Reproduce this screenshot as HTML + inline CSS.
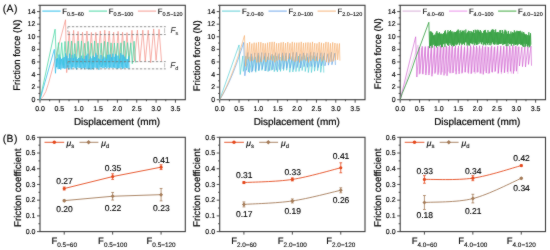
<!DOCTYPE html>
<html><head><meta charset="utf-8"><title>Friction force and coefficient</title>
<style>html,body{margin:0;padding:0;background:#fff;width:550px;height:250px;overflow:hidden}svg{display:block;will-change:transform}text{font-family:"Liberation Sans", sans-serif;text-rendering:geometricPrecision;stroke:#000;stroke-width:0.14px}text.big{stroke-width:0.2px}text.thin{stroke-width:0.05px;fill:#333;stroke:#333}</style>
</head><body>
<svg width="550" height="250" viewBox="0 0 550 250" font-family='"Liberation Sans", sans-serif'>
<defs><filter id="sb" color-interpolation-filters="sRGB" filterUnits="userSpaceOnUse" x="0" y="0" width="550" height="250"><feConvolveMatrix order="3" kernelMatrix="0.0280 0.0420 0.0280 0.0420 0.7200 0.0420 0.0280 0.0420 0.0280" edgeMode="duplicate"/></filter></defs><rect width="550" height="250" fill="#fff"/><g filter="url(#sb)">
<rect width="550" height="250" fill="#fff"/>
<line x1="37.00" y1="99.70" x2="40.00" y2="99.70" stroke="#3c3c3c" stroke-width="0.9" />
<text x="35.40" y="101.80" font-size="7" text-anchor="end" fill="#000" >0</text>
<line x1="38.40" y1="93.41" x2="40.00" y2="93.41" stroke="#3c3c3c" stroke-width="0.9" />
<line x1="37.00" y1="87.11" x2="40.00" y2="87.11" stroke="#3c3c3c" stroke-width="0.9" />
<text x="35.40" y="89.21" font-size="7" text-anchor="end" fill="#000" >2</text>
<line x1="38.40" y1="80.82" x2="40.00" y2="80.82" stroke="#3c3c3c" stroke-width="0.9" />
<line x1="37.00" y1="74.53" x2="40.00" y2="74.53" stroke="#3c3c3c" stroke-width="0.9" />
<text x="35.40" y="76.63" font-size="7" text-anchor="end" fill="#000" >4</text>
<line x1="38.40" y1="68.23" x2="40.00" y2="68.23" stroke="#3c3c3c" stroke-width="0.9" />
<line x1="37.00" y1="61.94" x2="40.00" y2="61.94" stroke="#3c3c3c" stroke-width="0.9" />
<text x="35.40" y="64.04" font-size="7" text-anchor="end" fill="#000" >6</text>
<line x1="38.40" y1="55.65" x2="40.00" y2="55.65" stroke="#3c3c3c" stroke-width="0.9" />
<line x1="37.00" y1="49.35" x2="40.00" y2="49.35" stroke="#3c3c3c" stroke-width="0.9" />
<text x="35.40" y="51.45" font-size="7" text-anchor="end" fill="#000" >8</text>
<line x1="38.40" y1="43.06" x2="40.00" y2="43.06" stroke="#3c3c3c" stroke-width="0.9" />
<line x1="37.00" y1="36.77" x2="40.00" y2="36.77" stroke="#3c3c3c" stroke-width="0.9" />
<text x="35.40" y="38.87" font-size="7" text-anchor="end" fill="#000" >10</text>
<line x1="38.40" y1="30.47" x2="40.00" y2="30.47" stroke="#3c3c3c" stroke-width="0.9" />
<line x1="37.00" y1="24.18" x2="40.00" y2="24.18" stroke="#3c3c3c" stroke-width="0.9" />
<text x="35.40" y="26.28" font-size="7" text-anchor="end" fill="#000" >12</text>
<line x1="38.40" y1="17.89" x2="40.00" y2="17.89" stroke="#3c3c3c" stroke-width="0.9" />
<line x1="37.00" y1="11.59" x2="40.00" y2="11.59" stroke="#3c3c3c" stroke-width="0.9" />
<text x="35.40" y="13.69" font-size="7" text-anchor="end" fill="#000" >14</text>
<line x1="38.40" y1="5.30" x2="40.00" y2="5.30" stroke="#3c3c3c" stroke-width="0.9" />
<line x1="40.00" y1="99.70" x2="40.00" y2="102.70" stroke="#3c3c3c" stroke-width="0.9" />
<text x="40.00" y="111.00" font-size="7" text-anchor="middle" fill="#000" >0.0</text>
<line x1="49.67" y1="99.70" x2="49.67" y2="101.30" stroke="#3c3c3c" stroke-width="0.9" />
<line x1="59.35" y1="99.70" x2="59.35" y2="102.70" stroke="#3c3c3c" stroke-width="0.9" />
<text x="59.35" y="111.00" font-size="7" text-anchor="middle" fill="#000" >0.5</text>
<line x1="69.02" y1="99.70" x2="69.02" y2="101.30" stroke="#3c3c3c" stroke-width="0.9" />
<line x1="78.70" y1="99.70" x2="78.70" y2="102.70" stroke="#3c3c3c" stroke-width="0.9" />
<text x="78.70" y="111.00" font-size="7" text-anchor="middle" fill="#000" >1.0</text>
<line x1="88.37" y1="99.70" x2="88.37" y2="101.30" stroke="#3c3c3c" stroke-width="0.9" />
<line x1="98.04" y1="99.70" x2="98.04" y2="102.70" stroke="#3c3c3c" stroke-width="0.9" />
<text x="98.04" y="111.00" font-size="7" text-anchor="middle" fill="#000" >1.5</text>
<line x1="107.72" y1="99.70" x2="107.72" y2="101.30" stroke="#3c3c3c" stroke-width="0.9" />
<line x1="117.39" y1="99.70" x2="117.39" y2="102.70" stroke="#3c3c3c" stroke-width="0.9" />
<text x="117.39" y="111.00" font-size="7" text-anchor="middle" fill="#000" >2.0</text>
<line x1="127.06" y1="99.70" x2="127.06" y2="101.30" stroke="#3c3c3c" stroke-width="0.9" />
<line x1="136.74" y1="99.70" x2="136.74" y2="102.70" stroke="#3c3c3c" stroke-width="0.9" />
<text x="136.74" y="111.00" font-size="7" text-anchor="middle" fill="#000" >2.5</text>
<line x1="146.41" y1="99.70" x2="146.41" y2="101.30" stroke="#3c3c3c" stroke-width="0.9" />
<line x1="156.09" y1="99.70" x2="156.09" y2="102.70" stroke="#3c3c3c" stroke-width="0.9" />
<text x="156.09" y="111.00" font-size="7" text-anchor="middle" fill="#000" >3.0</text>
<line x1="165.76" y1="99.70" x2="165.76" y2="101.30" stroke="#3c3c3c" stroke-width="0.9" />
<line x1="175.43" y1="99.70" x2="175.43" y2="102.70" stroke="#3c3c3c" stroke-width="0.9" />
<text x="175.43" y="111.00" font-size="7" text-anchor="middle" fill="#000" >3.5</text>
<rect x="40.00" y="5.3" width="145.3" height="94.40" fill="none" stroke="#3c3c3c" stroke-width="1.1"/>
<text x="117.00" y="125.40" font-size="9.95" text-anchor="middle" fill="#000" class="big">Displacement (mm)</text>
<text x="20.40" y="55.20" font-size="9.55" text-anchor="middle" fill="#000" class="big" transform="rotate(-90 20.40 55.20)">Friction force (N)</text>
<line x1="216.70" y1="99.70" x2="219.70" y2="99.70" stroke="#3c3c3c" stroke-width="0.9" />
<text x="215.10" y="101.80" font-size="7" text-anchor="end" fill="#000" >0</text>
<line x1="218.10" y1="93.41" x2="219.70" y2="93.41" stroke="#3c3c3c" stroke-width="0.9" />
<line x1="216.70" y1="87.11" x2="219.70" y2="87.11" stroke="#3c3c3c" stroke-width="0.9" />
<text x="215.10" y="89.21" font-size="7" text-anchor="end" fill="#000" >2</text>
<line x1="218.10" y1="80.82" x2="219.70" y2="80.82" stroke="#3c3c3c" stroke-width="0.9" />
<line x1="216.70" y1="74.53" x2="219.70" y2="74.53" stroke="#3c3c3c" stroke-width="0.9" />
<text x="215.10" y="76.63" font-size="7" text-anchor="end" fill="#000" >4</text>
<line x1="218.10" y1="68.23" x2="219.70" y2="68.23" stroke="#3c3c3c" stroke-width="0.9" />
<line x1="216.70" y1="61.94" x2="219.70" y2="61.94" stroke="#3c3c3c" stroke-width="0.9" />
<text x="215.10" y="64.04" font-size="7" text-anchor="end" fill="#000" >6</text>
<line x1="218.10" y1="55.65" x2="219.70" y2="55.65" stroke="#3c3c3c" stroke-width="0.9" />
<line x1="216.70" y1="49.35" x2="219.70" y2="49.35" stroke="#3c3c3c" stroke-width="0.9" />
<text x="215.10" y="51.45" font-size="7" text-anchor="end" fill="#000" >8</text>
<line x1="218.10" y1="43.06" x2="219.70" y2="43.06" stroke="#3c3c3c" stroke-width="0.9" />
<line x1="216.70" y1="36.77" x2="219.70" y2="36.77" stroke="#3c3c3c" stroke-width="0.9" />
<text x="215.10" y="38.87" font-size="7" text-anchor="end" fill="#000" >10</text>
<line x1="218.10" y1="30.47" x2="219.70" y2="30.47" stroke="#3c3c3c" stroke-width="0.9" />
<line x1="216.70" y1="24.18" x2="219.70" y2="24.18" stroke="#3c3c3c" stroke-width="0.9" />
<text x="215.10" y="26.28" font-size="7" text-anchor="end" fill="#000" >12</text>
<line x1="218.10" y1="17.89" x2="219.70" y2="17.89" stroke="#3c3c3c" stroke-width="0.9" />
<line x1="216.70" y1="11.59" x2="219.70" y2="11.59" stroke="#3c3c3c" stroke-width="0.9" />
<text x="215.10" y="13.69" font-size="7" text-anchor="end" fill="#000" >14</text>
<line x1="218.10" y1="5.30" x2="219.70" y2="5.30" stroke="#3c3c3c" stroke-width="0.9" />
<line x1="219.70" y1="99.70" x2="219.70" y2="102.70" stroke="#3c3c3c" stroke-width="0.9" />
<text x="219.70" y="111.00" font-size="7" text-anchor="middle" fill="#000" >0.0</text>
<line x1="229.37" y1="99.70" x2="229.37" y2="101.30" stroke="#3c3c3c" stroke-width="0.9" />
<line x1="239.05" y1="99.70" x2="239.05" y2="102.70" stroke="#3c3c3c" stroke-width="0.9" />
<text x="239.05" y="111.00" font-size="7" text-anchor="middle" fill="#000" >0.5</text>
<line x1="248.72" y1="99.70" x2="248.72" y2="101.30" stroke="#3c3c3c" stroke-width="0.9" />
<line x1="258.40" y1="99.70" x2="258.40" y2="102.70" stroke="#3c3c3c" stroke-width="0.9" />
<text x="258.40" y="111.00" font-size="7" text-anchor="middle" fill="#000" >1.0</text>
<line x1="268.07" y1="99.70" x2="268.07" y2="101.30" stroke="#3c3c3c" stroke-width="0.9" />
<line x1="277.74" y1="99.70" x2="277.74" y2="102.70" stroke="#3c3c3c" stroke-width="0.9" />
<text x="277.74" y="111.00" font-size="7" text-anchor="middle" fill="#000" >1.5</text>
<line x1="287.42" y1="99.70" x2="287.42" y2="101.30" stroke="#3c3c3c" stroke-width="0.9" />
<line x1="297.09" y1="99.70" x2="297.09" y2="102.70" stroke="#3c3c3c" stroke-width="0.9" />
<text x="297.09" y="111.00" font-size="7" text-anchor="middle" fill="#000" >2.0</text>
<line x1="306.76" y1="99.70" x2="306.76" y2="101.30" stroke="#3c3c3c" stroke-width="0.9" />
<line x1="316.44" y1="99.70" x2="316.44" y2="102.70" stroke="#3c3c3c" stroke-width="0.9" />
<text x="316.44" y="111.00" font-size="7" text-anchor="middle" fill="#000" >2.5</text>
<line x1="326.11" y1="99.70" x2="326.11" y2="101.30" stroke="#3c3c3c" stroke-width="0.9" />
<line x1="335.79" y1="99.70" x2="335.79" y2="102.70" stroke="#3c3c3c" stroke-width="0.9" />
<text x="335.79" y="111.00" font-size="7" text-anchor="middle" fill="#000" >3.0</text>
<line x1="345.46" y1="99.70" x2="345.46" y2="101.30" stroke="#3c3c3c" stroke-width="0.9" />
<line x1="355.13" y1="99.70" x2="355.13" y2="102.70" stroke="#3c3c3c" stroke-width="0.9" />
<text x="355.13" y="111.00" font-size="7" text-anchor="middle" fill="#000" >3.5</text>
<rect x="219.70" y="5.3" width="145.3" height="94.40" fill="none" stroke="#3c3c3c" stroke-width="1.1"/>
<text x="296.70" y="125.40" font-size="9.95" text-anchor="middle" fill="#000" class="big">Displacement (mm)</text>
<text x="199.60" y="55.80" font-size="9.55" text-anchor="middle" fill="#000" class="big" transform="rotate(-90 199.60 55.80)">Friction force (N)</text>
<line x1="397.20" y1="99.70" x2="400.20" y2="99.70" stroke="#3c3c3c" stroke-width="0.9" />
<text x="395.60" y="101.80" font-size="7" text-anchor="end" fill="#000" >0</text>
<line x1="398.60" y1="93.41" x2="400.20" y2="93.41" stroke="#3c3c3c" stroke-width="0.9" />
<line x1="397.20" y1="87.11" x2="400.20" y2="87.11" stroke="#3c3c3c" stroke-width="0.9" />
<text x="395.60" y="89.21" font-size="7" text-anchor="end" fill="#000" >2</text>
<line x1="398.60" y1="80.82" x2="400.20" y2="80.82" stroke="#3c3c3c" stroke-width="0.9" />
<line x1="397.20" y1="74.53" x2="400.20" y2="74.53" stroke="#3c3c3c" stroke-width="0.9" />
<text x="395.60" y="76.63" font-size="7" text-anchor="end" fill="#000" >4</text>
<line x1="398.60" y1="68.23" x2="400.20" y2="68.23" stroke="#3c3c3c" stroke-width="0.9" />
<line x1="397.20" y1="61.94" x2="400.20" y2="61.94" stroke="#3c3c3c" stroke-width="0.9" />
<text x="395.60" y="64.04" font-size="7" text-anchor="end" fill="#000" >6</text>
<line x1="398.60" y1="55.65" x2="400.20" y2="55.65" stroke="#3c3c3c" stroke-width="0.9" />
<line x1="397.20" y1="49.35" x2="400.20" y2="49.35" stroke="#3c3c3c" stroke-width="0.9" />
<text x="395.60" y="51.45" font-size="7" text-anchor="end" fill="#000" >8</text>
<line x1="398.60" y1="43.06" x2="400.20" y2="43.06" stroke="#3c3c3c" stroke-width="0.9" />
<line x1="397.20" y1="36.77" x2="400.20" y2="36.77" stroke="#3c3c3c" stroke-width="0.9" />
<text x="395.60" y="38.87" font-size="7" text-anchor="end" fill="#000" >10</text>
<line x1="398.60" y1="30.47" x2="400.20" y2="30.47" stroke="#3c3c3c" stroke-width="0.9" />
<line x1="397.20" y1="24.18" x2="400.20" y2="24.18" stroke="#3c3c3c" stroke-width="0.9" />
<text x="395.60" y="26.28" font-size="7" text-anchor="end" fill="#000" >12</text>
<line x1="398.60" y1="17.89" x2="400.20" y2="17.89" stroke="#3c3c3c" stroke-width="0.9" />
<line x1="397.20" y1="11.59" x2="400.20" y2="11.59" stroke="#3c3c3c" stroke-width="0.9" />
<text x="395.60" y="13.69" font-size="7" text-anchor="end" fill="#000" >14</text>
<line x1="398.60" y1="5.30" x2="400.20" y2="5.30" stroke="#3c3c3c" stroke-width="0.9" />
<line x1="400.20" y1="99.70" x2="400.20" y2="102.70" stroke="#3c3c3c" stroke-width="0.9" />
<text x="400.20" y="111.00" font-size="7" text-anchor="middle" fill="#000" >0.0</text>
<line x1="409.87" y1="99.70" x2="409.87" y2="101.30" stroke="#3c3c3c" stroke-width="0.9" />
<line x1="419.55" y1="99.70" x2="419.55" y2="102.70" stroke="#3c3c3c" stroke-width="0.9" />
<text x="419.55" y="111.00" font-size="7" text-anchor="middle" fill="#000" >0.5</text>
<line x1="429.22" y1="99.70" x2="429.22" y2="101.30" stroke="#3c3c3c" stroke-width="0.9" />
<line x1="438.90" y1="99.70" x2="438.90" y2="102.70" stroke="#3c3c3c" stroke-width="0.9" />
<text x="438.90" y="111.00" font-size="7" text-anchor="middle" fill="#000" >1.0</text>
<line x1="448.57" y1="99.70" x2="448.57" y2="101.30" stroke="#3c3c3c" stroke-width="0.9" />
<line x1="458.24" y1="99.70" x2="458.24" y2="102.70" stroke="#3c3c3c" stroke-width="0.9" />
<text x="458.24" y="111.00" font-size="7" text-anchor="middle" fill="#000" >1.5</text>
<line x1="467.92" y1="99.70" x2="467.92" y2="101.30" stroke="#3c3c3c" stroke-width="0.9" />
<line x1="477.59" y1="99.70" x2="477.59" y2="102.70" stroke="#3c3c3c" stroke-width="0.9" />
<text x="477.59" y="111.00" font-size="7" text-anchor="middle" fill="#000" >2.0</text>
<line x1="487.26" y1="99.70" x2="487.26" y2="101.30" stroke="#3c3c3c" stroke-width="0.9" />
<line x1="496.94" y1="99.70" x2="496.94" y2="102.70" stroke="#3c3c3c" stroke-width="0.9" />
<text x="496.94" y="111.00" font-size="7" text-anchor="middle" fill="#000" >2.5</text>
<line x1="506.61" y1="99.70" x2="506.61" y2="101.30" stroke="#3c3c3c" stroke-width="0.9" />
<line x1="516.29" y1="99.70" x2="516.29" y2="102.70" stroke="#3c3c3c" stroke-width="0.9" />
<text x="516.29" y="111.00" font-size="7" text-anchor="middle" fill="#000" >3.0</text>
<line x1="525.96" y1="99.70" x2="525.96" y2="101.30" stroke="#3c3c3c" stroke-width="0.9" />
<line x1="535.63" y1="99.70" x2="535.63" y2="102.70" stroke="#3c3c3c" stroke-width="0.9" />
<text x="535.63" y="111.00" font-size="7" text-anchor="middle" fill="#000" >3.5</text>
<rect x="400.20" y="5.3" width="145.3" height="94.40" fill="none" stroke="#3c3c3c" stroke-width="1.1"/>
<text x="477.20" y="125.40" font-size="9.95" text-anchor="middle" fill="#000" class="big">Displacement (mm)</text>
<text x="380.60" y="53.80" font-size="9.55" text-anchor="middle" fill="#000" class="big" transform="rotate(-90 380.60 53.80)">Friction force (N)</text>
<path d="M40.00,99.70 L43.10,96.55 L45.80,91.52 L48.51,83.34 L53.16,66.35 L65.54,19.77 L66.70,72.64 L69.15,31.54 L71.15,61.75 L73.60,30.35 L75.60,62.05 L78.05,31.40 L80.05,61.67 L82.50,32.21 L84.50,61.90 L86.95,31.09 L88.95,61.02 L91.40,32.44 L93.40,62.56 L95.85,32.45 L97.85,60.97 L100.30,30.93 L102.30,63.38 L104.75,30.20 L106.75,60.48 L109.20,31.03 L111.20,61.58 L113.65,32.28 L115.65,63.47 L118.10,31.35 L120.10,63.33 L122.55,32.20 L124.55,62.75 L127.00,32.60 L129.00,62.05 L131.98,30.31 L134.42,60.86 L137.40,30.11 L139.83,61.50 L142.81,30.16 L145.25,61.43 L148.23,30.27 L150.67,62.64 L153.65,28.91 L156.09,60.38 L159.06,29.30 L161.50,61.29" fill="none" stroke="#f4968c" stroke-width="0.75" stroke-linejoin="round" />
<path d="M40.00,99.70 L55.09,29.21 L56.64,66.97 L58.45,42.58 L59.93,64.56 L61.74,42.65 L63.22,65.36 L65.03,41.45 L66.51,63.70 L68.32,41.24 L69.80,63.77 L71.60,40.96 L73.08,61.45 L74.89,43.37 L76.37,64.66 L78.18,41.08 L79.66,63.35 L81.47,40.91 L82.95,63.72 L84.76,43.19 L86.24,62.55 L88.05,41.41 L89.53,64.36 L91.34,43.16 L92.82,64.04 L94.63,40.95 L96.11,61.90 L97.92,43.08 L99.40,64.48 L101.21,43.12 L102.69,65.41 L104.50,41.37 L105.98,64.82 L107.78,41.97 L109.26,63.46 L111.07,42.89 L112.55,62.03 L114.36,43.04 L115.84,62.48 L117.65,43.08 L119.13,63.60 L120.94,42.84 L122.42,64.36 L124.23,40.93 L125.71,61.67 L127.52,42.61 L129.00,61.26 L130.81,42.84 L132.29,63.73 L134.10,41.22 L135.58,62.48" fill="none" stroke="#45d6a2" stroke-width="0.75" stroke-linejoin="round" />
<path d="M40.00,99.70 L54.32,49.35 L55.48,73.27 L56.33,58.79 L56.79,67.32 L57.65,58.08 L58.11,69.16 L58.96,54.56 L59.42,68.98 L60.28,57.56 L60.74,69.62 L61.60,58.86 L62.06,68.34 L62.91,57.89 L63.37,68.29 L64.23,57.08 L64.69,68.67 L65.54,53.39 L66.00,68.59 L66.86,55.81 L67.32,67.63 L68.17,58.27 L68.63,69.42 L69.49,53.71 L69.95,67.75 L70.81,57.85 L71.27,69.33 L72.12,54.77 L72.58,67.44 L73.44,58.19 L73.90,67.41 L74.75,53.87 L75.21,68.29 L76.07,56.77 L76.53,69.55 L77.38,59.18 L77.84,67.38 L78.70,57.92 L79.16,68.03 L80.01,57.81 L80.48,67.73 L81.33,55.67 L81.79,69.07 L82.65,58.32 L83.11,67.99 L83.96,58.99 L84.42,69.23 L85.28,55.90 L85.74,67.66 L86.59,55.56 L87.05,69.10 L87.91,53.65 L88.37,69.29 L89.22,59.32 L89.68,69.13 L90.54,56.62 L91.00,69.65 L91.86,58.31 L92.32,68.88 L93.17,55.82 L93.63,69.48 L94.49,57.14 L94.95,67.56 L95.80,53.25 L96.26,68.15 L97.12,55.07 L97.58,68.34 L98.43,58.54 L98.89,69.72 L99.75,59.31 L100.21,67.52 L101.06,55.01 L101.53,67.38 L102.38,59.29 L102.84,68.21 L103.70,56.39 L104.16,67.97 L105.01,57.42 L105.47,67.29 L106.33,58.95 L106.79,68.43 L107.64,54.78 L108.10,67.54 L108.96,54.78 L109.42,68.04 L110.27,54.43 L110.73,67.50 L111.59,57.21 L112.05,68.08 L112.91,53.75 L113.37,67.61 L114.22,56.80 L114.68,67.82 L115.54,53.99 L116.00,68.36 L116.85,55.49 L117.31,68.84 L118.17,55.76 L118.63,68.27 L119.48,58.92 L119.94,68.20 L120.80,53.17 L121.26,67.59 L122.11,54.84 L122.58,68.83 L123.43,54.80 L123.89,68.34 L124.75,56.65 L125.21,67.70 L126.06,58.90 L126.52,67.92 L127.38,59.24 L127.84,68.29 L128.69,56.40 L129.15,69.23" fill="none" stroke="#38bfea" stroke-width="0.8" stroke-linejoin="round" />
<line x1="67.86" y1="26.70" x2="165.76" y2="26.70" stroke="#7a7a7a" stroke-width="0.8" stroke-dasharray="2.4,1.6"/>
<line x1="67.86" y1="34.56" x2="165.76" y2="34.56" stroke="#7a7a7a" stroke-width="0.8" stroke-dasharray="2.4,1.6"/>
<line x1="67.86" y1="61.63" x2="165.76" y2="61.63" stroke="#7a7a7a" stroke-width="0.8" stroke-dasharray="2.4,1.6"/>
<line x1="67.86" y1="68.86" x2="165.76" y2="68.86" stroke="#7a7a7a" stroke-width="0.8" stroke-dasharray="2.4,1.6"/>
<line x1="164.60" y1="28.20" x2="164.60" y2="33.06" stroke="#999" stroke-width="0.6" />
<line x1="67.86" y1="26.70" x2="67.86" y2="34.56" stroke="#888" stroke-width="0.7" stroke-dasharray="2,1.5"/>
<line x1="164.60" y1="63.13" x2="164.60" y2="67.36" stroke="#999" stroke-width="0.6" />
<line x1="67.86" y1="61.63" x2="67.86" y2="68.86" stroke="#888" stroke-width="0.7" stroke-dasharray="2,1.5"/>
<text class="thin" x="170.50" y="33.20" font-size="8.2" text-anchor="start" fill="#000"><tspan font-style="italic">F</tspan><tspan font-size="5.6" dy="1.8" style="stroke-width:0.1px">s</tspan></text>
<text class="thin" x="170.30" y="67.80" font-size="8.2" text-anchor="start" fill="#000"><tspan font-style="italic">F</tspan><tspan font-size="5.6" dy="1.8" style="stroke-width:0.1px">d</tspan></text>
<line x1="42.30" y1="11.10" x2="60.60" y2="11.10" stroke="#40c4ec" stroke-width="1.1" />
<text class="" x="62.20" y="14.20" font-size="7.7" text-anchor="start" fill="#000"><tspan >F</tspan><tspan font-size="5.5" dy="2.0" style="stroke-width:0.1px">0.5−60</tspan></text>
<line x1="88.80" y1="11.10" x2="107.10" y2="11.10" stroke="#5ddcae" stroke-width="1.1" />
<text class="" x="108.70" y="14.20" font-size="7.7" text-anchor="start" fill="#000"><tspan >F</tspan><tspan font-size="5.5" dy="2.0" style="stroke-width:0.1px">0.5−100</tspan></text>
<line x1="137.90" y1="11.10" x2="156.20" y2="11.10" stroke="#f6a49c" stroke-width="1.1" />
<text class="" x="157.80" y="14.20" font-size="7.7" text-anchor="start" fill="#000"><tspan >F</tspan><tspan font-size="5.5" dy="2.0" style="stroke-width:0.1px">0.5−120</tspan></text>
<path d="M219.70,99.70 L239.05,44.95 L240.21,74.53 L242.84,55.90 L243.30,71.39 L245.94,56.06 L246.40,70.32 L249.03,56.74 L249.50,72.61 L252.13,56.65 L252.59,70.93 L255.22,56.84 L255.69,72.21 L258.32,55.51 L258.78,70.98 L261.41,56.39 L261.88,70.39 L264.51,56.60 L264.97,70.96 L267.60,56.85 L268.07,71.55 L270.70,55.70 L271.16,70.34 L273.80,55.56 L274.26,71.67 L276.89,56.12 L277.36,71.84 L279.99,56.96 L280.45,71.39 L283.08,55.64 L283.55,70.50 L286.18,55.88 L286.64,70.25 L289.27,56.70 L289.74,72.21 L292.37,56.37 L292.83,71.95 L295.46,56.82 L295.93,71.60 L298.56,56.04 L299.02,71.40 L301.66,56.62 L302.12,70.53 L304.75,55.37 L305.22,71.50 L307.85,57.08 L308.31,72.56 L310.94,55.57 L311.41,72.53 L314.04,55.88 L314.50,71.20 L317.13,56.64 L317.60,70.65 L320.23,57.18 L320.69,72.30 L323.33,56.36 L323.79,72.58" fill="none" stroke="#4ccad2" stroke-width="0.65" stroke-linejoin="round" />
<path d="M219.70,99.70 L221.41,96.94 L223.13,93.97 L224.84,90.80 L226.55,87.43 L228.27,83.85 L229.98,80.06 L231.70,76.08 L233.41,71.88 L235.12,67.49 L236.84,62.88 L238.55,58.08 L240.26,53.07 L241.98,47.85 L243.69,42.43 L244.85,75.79 L247.81,52.51 L248.33,71.92 L251.29,53.81 L251.82,72.18 L254.78,52.89 L255.30,70.95 L258.26,52.88 L258.78,70.20 L261.74,52.55 L262.26,69.22 L265.22,52.78 L265.75,70.91 L268.71,53.18 L269.23,70.74 L272.19,54.05 L272.71,69.78 L275.67,52.72 L276.19,70.29 L279.15,53.56 L279.68,69.65 L282.64,52.76 L283.16,68.99 L286.12,52.91 L286.64,68.17 L289.60,53.33 L290.13,67.86 L293.09,52.36 L293.61,69.41 L296.57,52.31 L297.09,67.59 L300.05,53.83 L300.57,68.05 L303.53,52.89 L304.06,66.68 L307.02,53.36 L307.54,67.32 L310.50,52.41 L311.02,66.52 L313.98,52.29 L314.50,67.14 L317.46,52.84 L317.99,67.57 L320.95,52.71 L321.47,65.80 L324.43,52.86 L324.95,65.83 L327.91,53.67 L328.43,65.15 L331.39,52.22 L331.92,64.74 L334.88,53.06 L335.40,64.98" fill="none" stroke="#5a9fe6" stroke-width="0.65" stroke-linejoin="round" />
<path d="M219.70,99.70 L221.47,96.61 L223.24,93.28 L225.01,89.73 L226.78,85.94 L228.54,81.93 L230.31,77.69 L232.08,73.22 L233.85,68.52 L235.62,63.59 L237.39,58.43 L239.16,53.05 L240.93,47.43 L242.70,41.58 L244.46,35.51 L245.63,66.35 L247.42,43.08 L247.87,59.13 L249.67,42.07 L250.11,61.25 L251.91,43.53 L252.36,60.90 L254.15,42.65 L254.60,59.67 L256.40,42.77 L256.85,62.46 L258.64,42.16 L259.09,62.33 L260.89,42.18 L261.34,61.92 L263.13,43.06 L263.58,59.59 L265.38,43.42 L265.82,62.01 L267.62,42.71 L268.07,59.84 L269.86,42.10 L270.31,59.97 L272.11,41.90 L272.56,60.71 L274.35,41.90 L274.80,62.24 L276.60,43.27 L277.05,60.58 L278.84,43.14 L279.29,59.82 L281.09,42.48 L281.53,60.60 L283.33,42.10 L283.78,60.45 L285.57,43.10 L286.02,61.13 L287.82,42.09 L288.27,59.17 L290.06,43.30 L290.51,59.36 L292.31,41.86 L292.76,60.59 L294.55,42.61 L295.00,61.81 L296.80,42.68 L297.24,60.67 L299.04,42.55 L299.49,62.46 L301.28,41.86 L301.73,60.62 L303.53,42.93 L303.98,59.54 L305.77,42.63 L306.22,60.72 L308.02,42.38 L308.47,62.32 L310.26,42.67 L310.71,61.01 L312.51,41.88 L312.96,59.08 L314.75,43.18 L315.20,60.78 L316.99,43.45 L317.44,60.93 L319.24,42.15 L319.69,59.17 L321.48,42.79 L321.93,61.37 L323.73,43.33 L324.18,60.24 L325.97,41.94 L326.42,62.08 L328.22,42.22 L328.67,62.48 L330.46,43.32 L330.91,61.71 L332.71,42.39 L333.15,61.35 L334.95,43.02 L335.40,60.23 L337.19,43.49 L337.64,59.81 L339.44,43.46 L339.89,60.64" fill="none" stroke="#f5ad6a" stroke-width="0.65" stroke-linejoin="round" />
<line x1="222.00" y1="11.10" x2="240.30" y2="11.10" stroke="#6fd3da" stroke-width="1.1" />
<text class="" x="241.90" y="14.20" font-size="7.7" text-anchor="start" fill="#000"><tspan >F</tspan><tspan font-size="5.5" dy="2.0" style="stroke-width:0.1px">2.0−60</tspan></text>
<line x1="268.50" y1="11.10" x2="286.80" y2="11.10" stroke="#7fb2ec" stroke-width="1.1" />
<text class="" x="288.40" y="14.20" font-size="7.7" text-anchor="start" fill="#000"><tspan >F</tspan><tspan font-size="5.5" dy="2.0" style="stroke-width:0.1px">2.0−100</tspan></text>
<line x1="317.60" y1="11.10" x2="335.90" y2="11.10" stroke="#f7bb88" stroke-width="1.1" />
<text class="" x="337.50" y="14.20" font-size="7.7" text-anchor="start" fill="#000"><tspan >F</tspan><tspan font-size="5.5" dy="2.0" style="stroke-width:0.1px">2.0−120</tspan></text>
<path d="M400.20,99.70 L418.00,44.95 L419.16,74.53 L421.79,47.94 L422.45,73.59 L425.08,47.41 L425.74,72.84 L428.37,47.70 L429.03,72.91 L431.66,47.41 L432.32,73.71 L434.95,48.02 L435.61,72.23 L438.24,47.20 L438.90,72.55 L441.53,46.80 L442.18,72.29 L444.82,46.79 L445.47,73.48 L448.10,47.01 L448.76,71.66 L451.39,46.71 L452.05,73.22 L454.68,47.81 L455.34,71.31 L457.97,48.00 L458.63,71.07 L461.26,46.73 L461.92,73.79 L464.55,47.96 L465.21,71.93 L467.84,47.92 L468.50,73.91 L471.13,46.84 L471.79,72.89 L474.42,46.92 L475.07,73.82 L477.71,47.65 L478.36,72.06 L481.00,48.38 L481.65,73.58 L484.28,47.12 L484.94,71.34 L487.57,46.58 L488.23,73.85 L490.86,47.45 L491.52,71.83 L494.15,47.46 L494.81,72.05 L497.44,48.05 L498.10,73.99 L500.73,48.21 L501.39,74.09 L504.02,47.37 L504.68,72.59 L507.31,47.34 L507.97,73.75 L510.60,48.06 L511.25,73.57 L513.89,46.82 L514.54,71.10 L517.18,46.66 L517.83,73.91" fill="none" stroke="#e39ae3" stroke-width="0.45" stroke-linejoin="round" />
<path d="M400.20,99.70 L415.68,36.77 L416.84,77.04 L419.25,47.03 L419.86,73.70 L422.27,46.28 L422.88,74.19 L425.29,46.53 L425.89,75.03 L428.31,46.18 L428.91,75.04 L431.33,46.02 L431.93,76.26 L434.34,45.83 L434.95,73.54 L437.36,46.81 L437.97,74.67 L440.38,45.75 L440.98,74.73 L443.40,46.78 L444.00,75.39 L446.42,46.18 L447.02,75.76 L449.44,45.46 L450.04,73.19 L452.45,45.82 L453.06,72.90 L455.47,45.96 L456.08,74.24 L458.49,46.02 L459.09,73.83 L461.51,45.30 L462.11,72.78 L464.53,46.66 L465.13,72.35 L467.54,45.75 L468.15,72.67 L470.56,45.61 L471.17,73.75 L473.58,45.46 L474.18,72.16 L476.60,45.84 L477.20,72.41 L479.62,45.71 L480.22,73.45 L482.64,45.79 L483.24,74.41 L485.65,46.51 L486.26,73.06 L488.67,47.13 L489.28,73.31 L491.69,45.94 L492.29,72.37 L494.71,46.71 L495.31,71.26 L497.73,45.89 L498.33,73.08 L500.75,45.91 L501.35,72.25 L503.76,46.14 L504.37,72.72 L506.78,45.26 L507.39,71.82 L509.80,45.83 L510.40,71.35 L512.82,45.30 L513.42,73.58 L515.84,45.99 L516.44,71.23 L518.85,46.67 L519.46,66.03 L521.87,47.06 L522.48,66.67 L524.89,46.44 L525.49,66.98 L527.91,46.68 L528.51,64.44 L530.93,46.11 L531.53,65.69" fill="none" stroke="#cf5ccf" stroke-width="0.65" stroke-linejoin="round" />
<path d="M400.20,99.70 L402.21,93.41 L405.62,85.23 L408.91,77.04 L412.20,68.23 L414.90,60.05 L428.83,22.29 L429.61,48.09 L430.08,31.56 L430.46,45.95 L430.93,31.37 L431.31,45.62 L431.78,32.12 L432.16,47.67 L432.63,32.99 L433.01,45.03 L433.48,35.36 L433.86,44.32 L434.33,34.78 L434.72,45.98 L435.18,34.68 L435.57,45.82 L436.04,32.66 L436.42,47.41 L436.89,31.13 L437.27,45.97 L437.74,32.91 L438.12,45.24 L438.59,33.55 L438.97,46.35 L439.44,32.21 L439.82,45.25 L440.29,33.78 L440.68,44.60 L441.14,33.67 L441.53,47.19 L441.99,33.83 L442.38,47.02 L442.85,34.16 L443.23,44.27 L443.70,33.07 L444.08,43.67 L444.55,31.43 L444.93,46.81 L445.40,30.31 L445.78,43.37 L446.25,34.28 L446.63,43.46 L447.10,32.65 L447.49,45.02 L447.95,30.20 L448.34,45.84 L448.80,32.13 L449.19,43.17 L449.66,31.19 L450.04,44.88 L450.51,30.01 L450.89,43.51 L451.36,31.61 L451.74,46.11 L452.21,31.47 L452.59,44.77 L453.06,33.27 L453.44,46.24 L453.91,31.79 L454.30,45.92 L454.76,32.12 L455.15,43.82 L455.62,32.01 L456.00,45.30 L456.47,31.41 L456.85,44.66 L457.32,30.50 L457.70,44.20 L458.17,29.49 L458.55,42.56 L459.02,30.61 L459.40,45.22 L459.87,33.30 L460.25,42.71 L460.72,30.31 L461.11,43.68 L461.57,32.14 L461.96,44.97 L462.43,30.67 L462.81,43.83 L463.28,31.05 L463.66,43.54 L464.13,30.30 L464.51,45.18 L464.98,32.49 L465.36,42.16 L465.83,29.53 L466.21,42.51 L466.68,33.36 L467.07,45.57 L467.53,32.31 L467.92,44.17 L468.38,30.73 L468.77,45.36 L469.24,31.07 L469.62,45.45 L470.09,33.05 L470.47,43.15 L470.94,30.99 L471.32,43.30 L471.79,31.75 L472.17,43.86 L472.64,32.45 L473.02,44.35 L473.49,30.08 L473.88,42.47 L474.34,33.02 L474.73,45.17 L475.19,29.77 L475.58,43.26 L476.05,29.94 L476.43,44.80 L476.90,31.45 L477.28,44.62 L477.75,29.75 L478.13,44.19 L478.60,30.43 L478.98,41.85 L479.45,31.87 L479.83,43.51 L480.30,30.02 L480.69,42.10 L481.15,31.42 L481.54,44.18 L482.01,32.88 L482.39,42.28 L482.86,32.97 L483.24,45.27 L483.71,30.83 L484.09,43.76 L484.56,30.31 L484.94,44.47 L485.41,29.92 L485.79,45.32 L486.26,32.41 L486.64,43.12 L487.11,33.00 L487.50,44.49 L487.96,30.18 L488.35,43.03 L488.82,32.15 L489.20,45.12 L489.67,31.83 L490.05,42.94 L490.52,31.82 L490.90,45.26 L491.37,30.33 L491.75,43.57 L492.22,29.43 L492.60,42.20 L493.07,29.48 L493.46,44.12 L493.92,29.99 L494.31,44.65 L494.77,32.16 L495.16,44.32 L495.63,29.47 L496.01,42.48 L496.48,32.52 L496.86,44.52 L497.33,32.04 L497.71,44.55 L498.18,31.94 L498.56,44.49 L499.03,32.86 L499.41,43.86 L499.88,30.25 L500.27,43.99 L500.73,30.11 L501.12,43.94 L501.58,33.06 L501.97,43.24 L502.44,30.00 L502.82,45.09 L503.29,33.82 L503.67,44.25 L504.14,31.57 L504.52,44.10 L504.99,29.76 L505.37,43.83 L505.84,30.52 L506.22,46.09 L506.69,31.70 L507.08,43.40 L507.54,33.79 L507.93,46.12 L508.40,30.96 L508.78,43.09 L509.25,33.89 L509.63,44.14 L510.10,33.68 L510.48,43.77 L510.95,31.51 L511.33,45.71 L511.80,33.45 L512.18,43.80 L512.65,32.18 L513.03,43.86 L513.50,32.80 L513.89,45.53 L514.35,30.33 L514.74,44.33 L515.21,32.48 L515.59,44.90 L516.06,31.54 L516.44,44.31 L516.91,30.74 L517.29,45.49 L517.76,31.19 L518.14,44.59 L518.61,31.14 L518.99,44.12 L519.46,31.29 L519.85,43.87 L520.31,30.80 L520.70,44.88 L521.16,32.78 L521.55,44.68 L522.02,31.62 L522.40,45.83 L522.87,33.36 L523.25,46.93 L523.72,32.01 L524.10,43.81 L524.57,33.69 L524.95,46.98 L525.42,34.51 L525.80,46.08 L526.27,34.19 L526.66,44.09 L527.12,35.28 L527.51,46.65 L527.98,35.10 L528.36,45.44 L528.83,32.26 L529.21,47.27 L529.68,35.47 L530.06,46.28 L530.53,33.24 L530.91,44.65" fill="none" stroke="#34a040" stroke-width="0.8" stroke-linejoin="round" />
<line x1="402.50" y1="11.10" x2="420.80" y2="11.10" stroke="#dcb6dc" stroke-width="1.1" />
<text class="" x="422.40" y="14.20" font-size="7.7" text-anchor="start" fill="#000"><tspan >F</tspan><tspan font-size="5.5" dy="2.0" style="stroke-width:0.1px">4.0−60</tspan></text>
<line x1="449.00" y1="11.10" x2="467.30" y2="11.10" stroke="#ee9cee" stroke-width="1.1" />
<text class="" x="468.90" y="14.20" font-size="7.7" text-anchor="start" fill="#000"><tspan >F</tspan><tspan font-size="5.5" dy="2.0" style="stroke-width:0.1px">4.0−100</tspan></text>
<line x1="498.10" y1="11.10" x2="516.40" y2="11.10" stroke="#52b052" stroke-width="1.1" />
<text class="" x="518.00" y="14.20" font-size="7.7" text-anchor="start" fill="#000"><tspan >F</tspan><tspan font-size="5.5" dy="2.0" style="stroke-width:0.1px">4.0−120</tspan></text>
<text x="2.70" y="12.40" font-size="10.4" text-anchor="start" fill="#000" letter-spacing="0.45">(A)</text>
<text x="2.70" y="141.50" font-size="10.4" text-anchor="start" fill="#000" letter-spacing="0.45">(B)</text>
<line x1="37.00" y1="231.60" x2="40.00" y2="231.60" stroke="#3c3c3c" stroke-width="0.9" />
<text x="35.40" y="233.90" font-size="7" text-anchor="end" fill="#000" >0.0</text>
<line x1="38.40" y1="223.74" x2="40.00" y2="223.74" stroke="#3c3c3c" stroke-width="0.9" />
<line x1="37.00" y1="215.88" x2="40.00" y2="215.88" stroke="#3c3c3c" stroke-width="0.9" />
<text x="35.40" y="218.18" font-size="7" text-anchor="end" fill="#000" >0.1</text>
<line x1="38.40" y1="208.03" x2="40.00" y2="208.03" stroke="#3c3c3c" stroke-width="0.9" />
<line x1="37.00" y1="200.17" x2="40.00" y2="200.17" stroke="#3c3c3c" stroke-width="0.9" />
<text x="35.40" y="202.47" font-size="7" text-anchor="end" fill="#000" >0.2</text>
<line x1="38.40" y1="192.31" x2="40.00" y2="192.31" stroke="#3c3c3c" stroke-width="0.9" />
<line x1="37.00" y1="184.45" x2="40.00" y2="184.45" stroke="#3c3c3c" stroke-width="0.9" />
<text x="35.40" y="186.75" font-size="7" text-anchor="end" fill="#000" >0.3</text>
<line x1="38.40" y1="176.59" x2="40.00" y2="176.59" stroke="#3c3c3c" stroke-width="0.9" />
<line x1="37.00" y1="168.73" x2="40.00" y2="168.73" stroke="#3c3c3c" stroke-width="0.9" />
<text x="35.40" y="171.03" font-size="7" text-anchor="end" fill="#000" >0.4</text>
<line x1="38.40" y1="160.88" x2="40.00" y2="160.88" stroke="#3c3c3c" stroke-width="0.9" />
<line x1="37.00" y1="153.02" x2="40.00" y2="153.02" stroke="#3c3c3c" stroke-width="0.9" />
<text x="35.40" y="155.32" font-size="7" text-anchor="end" fill="#000" >0.5</text>
<line x1="38.40" y1="145.16" x2="40.00" y2="145.16" stroke="#3c3c3c" stroke-width="0.9" />
<line x1="37.00" y1="137.30" x2="40.00" y2="137.30" stroke="#3c3c3c" stroke-width="0.9" />
<text x="35.40" y="139.60" font-size="7" text-anchor="end" fill="#000" >0.6</text>
<line x1="64.22" y1="231.60" x2="64.22" y2="234.60" stroke="#3c3c3c" stroke-width="0.9" />
<text class="" x="64.22" y="244.20" font-size="9.5" text-anchor="middle" fill="#000"><tspan >F</tspan><tspan font-size="6.4" dy="3.1" style="stroke-width:0.1px">0.5−60</tspan></text>
<line x1="112.65" y1="231.60" x2="112.65" y2="234.60" stroke="#3c3c3c" stroke-width="0.9" />
<text class="" x="112.65" y="244.20" font-size="9.5" text-anchor="middle" fill="#000"><tspan >F</tspan><tspan font-size="6.4" dy="3.1" style="stroke-width:0.1px">0.5−100</tspan></text>
<line x1="161.08" y1="231.60" x2="161.08" y2="234.60" stroke="#3c3c3c" stroke-width="0.9" />
<text class="" x="161.08" y="244.20" font-size="9.5" text-anchor="middle" fill="#000"><tspan >F</tspan><tspan font-size="6.4" dy="3.1" style="stroke-width:0.1px">0.5−120</tspan></text>
<rect x="40.00" y="137.3" width="145.3" height="94.30" fill="none" stroke="#3c3c3c" stroke-width="1.1"/>
<text x="20.90" y="187.80" font-size="9.75" text-anchor="middle" fill="#000" class="big" transform="rotate(-90 20.90 187.8)">Friction coefficient</text>
<line x1="44.50" y1="142.30" x2="64.20" y2="142.30" stroke="#e4481c" stroke-width="0.9" />
<circle cx="54.30" cy="142.3" r="1.75" fill="#e4481c"/>
<text class="" x="66.60" y="145.80" font-size="8.5" text-anchor="start" fill="#000"><tspan font-style="italic">μ</tspan><tspan font-size="5.9" dy="2.0" style="stroke-width:0.1px">s</tspan></text>
<line x1="79.50" y1="142.30" x2="98.40" y2="142.30" stroke="#a47b58" stroke-width="0.9" />
<path d="M88.60,140.10 L90.80,142.30 L88.60,144.50 L86.40,142.30Z" fill="#a47b58"/>
<text class="" x="101.30" y="145.80" font-size="8.5" text-anchor="start" fill="#000"><tspan font-style="italic">μ</tspan><tspan font-size="5.9" dy="2.0" style="stroke-width:0.1px">d</tspan></text>
<path d="M64.22,200.64 L112.65,196.24 L161.08,194.67" fill="none" stroke="#a47b58" stroke-width="0.9" stroke-linejoin="round" />
<line x1="64.22" y1="199.64" x2="64.22" y2="201.64" stroke="#a47b58" stroke-width="0.8" />
<line x1="62.82" y1="199.64" x2="65.62" y2="199.64" stroke="#a47b58" stroke-width="0.8" />
<line x1="62.82" y1="201.64" x2="65.62" y2="201.64" stroke="#a47b58" stroke-width="0.8" />
<path d="M64.22,198.64 L66.22,200.64 L64.22,202.64 L62.22,200.64Z" fill="#a47b58"/>
<text x="64.52" y="212.00" font-size="8.5" text-anchor="middle" fill="#000" >0.20</text>
<line x1="112.65" y1="192.44" x2="112.65" y2="200.04" stroke="#a47b58" stroke-width="0.8" />
<line x1="111.25" y1="192.44" x2="114.05" y2="192.44" stroke="#a47b58" stroke-width="0.8" />
<line x1="111.25" y1="200.04" x2="114.05" y2="200.04" stroke="#a47b58" stroke-width="0.8" />
<path d="M112.65,194.24 L114.65,196.24 L112.65,198.24 L110.65,196.24Z" fill="#a47b58"/>
<text x="112.95" y="210.60" font-size="8.5" text-anchor="middle" fill="#000" >0.22</text>
<line x1="161.08" y1="188.47" x2="161.08" y2="200.87" stroke="#a47b58" stroke-width="0.8" />
<line x1="159.68" y1="188.47" x2="162.48" y2="188.47" stroke="#a47b58" stroke-width="0.8" />
<line x1="159.68" y1="200.87" x2="162.48" y2="200.87" stroke="#a47b58" stroke-width="0.8" />
<path d="M161.08,192.67 L163.08,194.67 L161.08,196.67 L159.08,194.67Z" fill="#a47b58"/>
<text x="161.38" y="210.60" font-size="8.5" text-anchor="middle" fill="#000" >0.23</text>
<path d="M64.22,188.54 L112.65,176.59 L161.08,167.16" fill="none" stroke="#e4481c" stroke-width="0.9" stroke-linejoin="round" />
<line x1="64.22" y1="187.04" x2="64.22" y2="190.04" stroke="#e4481c" stroke-width="0.8" />
<line x1="62.82" y1="187.04" x2="65.62" y2="187.04" stroke="#e4481c" stroke-width="0.8" />
<line x1="62.82" y1="190.04" x2="65.62" y2="190.04" stroke="#e4481c" stroke-width="0.8" />
<circle cx="64.22" cy="188.54" r="1.55" fill="#e4481c"/>
<text x="64.52" y="184.00" font-size="8.5" text-anchor="middle" fill="#000" >0.27</text>
<line x1="112.65" y1="173.79" x2="112.65" y2="179.39" stroke="#e4481c" stroke-width="0.8" />
<line x1="111.25" y1="173.79" x2="114.05" y2="173.79" stroke="#e4481c" stroke-width="0.8" />
<line x1="111.25" y1="179.39" x2="114.05" y2="179.39" stroke="#e4481c" stroke-width="0.8" />
<circle cx="112.65" cy="176.59" r="1.55" fill="#e4481c"/>
<text x="112.95" y="171.00" font-size="8.5" text-anchor="middle" fill="#000" >0.35</text>
<line x1="161.08" y1="164.76" x2="161.08" y2="169.56" stroke="#e4481c" stroke-width="0.8" />
<line x1="159.68" y1="164.76" x2="162.48" y2="164.76" stroke="#e4481c" stroke-width="0.8" />
<line x1="159.68" y1="169.56" x2="162.48" y2="169.56" stroke="#e4481c" stroke-width="0.8" />
<circle cx="161.08" cy="167.16" r="1.55" fill="#e4481c"/>
<text x="161.38" y="163.40" font-size="8.5" text-anchor="middle" fill="#000" >0.41</text>
<line x1="216.70" y1="231.60" x2="219.70" y2="231.60" stroke="#3c3c3c" stroke-width="0.9" />
<text x="215.10" y="233.90" font-size="7" text-anchor="end" fill="#000" >0.0</text>
<line x1="218.10" y1="223.74" x2="219.70" y2="223.74" stroke="#3c3c3c" stroke-width="0.9" />
<line x1="216.70" y1="215.88" x2="219.70" y2="215.88" stroke="#3c3c3c" stroke-width="0.9" />
<text x="215.10" y="218.18" font-size="7" text-anchor="end" fill="#000" >0.1</text>
<line x1="218.10" y1="208.03" x2="219.70" y2="208.03" stroke="#3c3c3c" stroke-width="0.9" />
<line x1="216.70" y1="200.17" x2="219.70" y2="200.17" stroke="#3c3c3c" stroke-width="0.9" />
<text x="215.10" y="202.47" font-size="7" text-anchor="end" fill="#000" >0.2</text>
<line x1="218.10" y1="192.31" x2="219.70" y2="192.31" stroke="#3c3c3c" stroke-width="0.9" />
<line x1="216.70" y1="184.45" x2="219.70" y2="184.45" stroke="#3c3c3c" stroke-width="0.9" />
<text x="215.10" y="186.75" font-size="7" text-anchor="end" fill="#000" >0.3</text>
<line x1="218.10" y1="176.59" x2="219.70" y2="176.59" stroke="#3c3c3c" stroke-width="0.9" />
<line x1="216.70" y1="168.73" x2="219.70" y2="168.73" stroke="#3c3c3c" stroke-width="0.9" />
<text x="215.10" y="171.03" font-size="7" text-anchor="end" fill="#000" >0.4</text>
<line x1="218.10" y1="160.88" x2="219.70" y2="160.88" stroke="#3c3c3c" stroke-width="0.9" />
<line x1="216.70" y1="153.02" x2="219.70" y2="153.02" stroke="#3c3c3c" stroke-width="0.9" />
<text x="215.10" y="155.32" font-size="7" text-anchor="end" fill="#000" >0.5</text>
<line x1="218.10" y1="145.16" x2="219.70" y2="145.16" stroke="#3c3c3c" stroke-width="0.9" />
<line x1="216.70" y1="137.30" x2="219.70" y2="137.30" stroke="#3c3c3c" stroke-width="0.9" />
<text x="215.10" y="139.60" font-size="7" text-anchor="end" fill="#000" >0.6</text>
<line x1="243.92" y1="231.60" x2="243.92" y2="234.60" stroke="#3c3c3c" stroke-width="0.9" />
<text class="" x="243.92" y="244.20" font-size="9.5" text-anchor="middle" fill="#000"><tspan >F</tspan><tspan font-size="6.4" dy="3.1" style="stroke-width:0.1px">2.0−60</tspan></text>
<line x1="292.35" y1="231.60" x2="292.35" y2="234.60" stroke="#3c3c3c" stroke-width="0.9" />
<text class="" x="292.35" y="244.20" font-size="9.5" text-anchor="middle" fill="#000"><tspan >F</tspan><tspan font-size="6.4" dy="3.1" style="stroke-width:0.1px">2.0−100</tspan></text>
<line x1="340.78" y1="231.60" x2="340.78" y2="234.60" stroke="#3c3c3c" stroke-width="0.9" />
<text class="" x="340.78" y="244.20" font-size="9.5" text-anchor="middle" fill="#000"><tspan >F</tspan><tspan font-size="6.4" dy="3.1" style="stroke-width:0.1px">2.0−120</tspan></text>
<rect x="219.70" y="137.3" width="145.3" height="94.30" fill="none" stroke="#3c3c3c" stroke-width="1.1"/>
<text x="200.10" y="187.80" font-size="9.75" text-anchor="middle" fill="#000" class="big" transform="rotate(-90 200.10 187.8)">Friction coefficient</text>
<line x1="224.20" y1="142.30" x2="243.90" y2="142.30" stroke="#e4481c" stroke-width="0.9" />
<circle cx="234.00" cy="142.3" r="1.75" fill="#e4481c"/>
<text class="" x="246.30" y="145.80" font-size="8.5" text-anchor="start" fill="#000"><tspan font-style="italic">μ</tspan><tspan font-size="5.9" dy="2.0" style="stroke-width:0.1px">s</tspan></text>
<line x1="259.20" y1="142.30" x2="278.10" y2="142.30" stroke="#a47b58" stroke-width="0.9" />
<path d="M268.30,140.10 L270.50,142.30 L268.30,144.50 L266.10,142.30Z" fill="#a47b58"/>
<text class="" x="281.00" y="145.80" font-size="8.5" text-anchor="start" fill="#000"><tspan font-style="italic">μ</tspan><tspan font-size="5.9" dy="2.0" style="stroke-width:0.1px">d</tspan></text>
<path d="M243.92,204.41 C251.99,203.83 276.21,203.31 292.35,200.95 C308.49,198.59 332.71,192.05 340.78,190.27" fill="none" stroke="#a47b58" stroke-width="0.9"/>
<line x1="243.92" y1="201.91" x2="243.92" y2="206.91" stroke="#a47b58" stroke-width="0.8" />
<line x1="242.52" y1="201.91" x2="245.32" y2="201.91" stroke="#a47b58" stroke-width="0.8" />
<line x1="242.52" y1="206.91" x2="245.32" y2="206.91" stroke="#a47b58" stroke-width="0.8" />
<path d="M243.92,202.41 L245.92,204.41 L243.92,206.41 L241.92,204.41Z" fill="#a47b58"/>
<text x="244.22" y="217.00" font-size="8.5" text-anchor="middle" fill="#000" >0.17</text>
<line x1="292.35" y1="198.95" x2="292.35" y2="202.95" stroke="#a47b58" stroke-width="0.8" />
<line x1="290.95" y1="198.95" x2="293.75" y2="198.95" stroke="#a47b58" stroke-width="0.8" />
<line x1="290.95" y1="202.95" x2="293.75" y2="202.95" stroke="#a47b58" stroke-width="0.8" />
<path d="M292.35,198.95 L294.35,200.95 L292.35,202.95 L290.35,200.95Z" fill="#a47b58"/>
<text x="292.65" y="213.80" font-size="8.5" text-anchor="middle" fill="#000" >0.19</text>
<line x1="340.78" y1="187.77" x2="340.78" y2="192.77" stroke="#a47b58" stroke-width="0.8" />
<line x1="339.38" y1="187.77" x2="342.18" y2="187.77" stroke="#a47b58" stroke-width="0.8" />
<line x1="339.38" y1="192.77" x2="342.18" y2="192.77" stroke="#a47b58" stroke-width="0.8" />
<path d="M340.78,188.27 L342.78,190.27 L340.78,192.27 L338.78,190.27Z" fill="#a47b58"/>
<text x="341.08" y="202.60" font-size="8.5" text-anchor="middle" fill="#000" >0.26</text>
<path d="M243.92,182.56 C251.99,182.04 276.21,181.88 292.35,179.42 C308.49,176.96 332.71,169.73 340.78,167.79" fill="none" stroke="#e4481c" stroke-width="0.9"/>
<line x1="243.92" y1="181.56" x2="243.92" y2="183.56" stroke="#e4481c" stroke-width="0.8" />
<line x1="242.52" y1="181.56" x2="245.32" y2="181.56" stroke="#e4481c" stroke-width="0.8" />
<line x1="242.52" y1="183.56" x2="245.32" y2="183.56" stroke="#e4481c" stroke-width="0.8" />
<circle cx="243.92" cy="182.56" r="1.55" fill="#e4481c"/>
<text x="244.22" y="178.20" font-size="8.5" text-anchor="middle" fill="#000" >0.31</text>
<line x1="292.35" y1="177.92" x2="292.35" y2="180.92" stroke="#e4481c" stroke-width="0.8" />
<line x1="290.95" y1="177.92" x2="293.75" y2="177.92" stroke="#e4481c" stroke-width="0.8" />
<line x1="290.95" y1="180.92" x2="293.75" y2="180.92" stroke="#e4481c" stroke-width="0.8" />
<circle cx="292.35" cy="179.42" r="1.55" fill="#e4481c"/>
<text x="292.65" y="175.00" font-size="8.5" text-anchor="middle" fill="#000" >0.33</text>
<line x1="340.78" y1="162.79" x2="340.78" y2="172.79" stroke="#e4481c" stroke-width="0.8" />
<line x1="339.38" y1="162.79" x2="342.18" y2="162.79" stroke="#e4481c" stroke-width="0.8" />
<line x1="339.38" y1="172.79" x2="342.18" y2="172.79" stroke="#e4481c" stroke-width="0.8" />
<circle cx="340.78" cy="167.79" r="1.55" fill="#e4481c"/>
<text x="341.08" y="159.20" font-size="8.5" text-anchor="middle" fill="#000" >0.41</text>
<line x1="397.20" y1="231.60" x2="400.20" y2="231.60" stroke="#3c3c3c" stroke-width="0.9" />
<text x="395.60" y="233.90" font-size="7" text-anchor="end" fill="#000" >0.0</text>
<line x1="398.60" y1="223.74" x2="400.20" y2="223.74" stroke="#3c3c3c" stroke-width="0.9" />
<line x1="397.20" y1="215.88" x2="400.20" y2="215.88" stroke="#3c3c3c" stroke-width="0.9" />
<text x="395.60" y="218.18" font-size="7" text-anchor="end" fill="#000" >0.1</text>
<line x1="398.60" y1="208.03" x2="400.20" y2="208.03" stroke="#3c3c3c" stroke-width="0.9" />
<line x1="397.20" y1="200.17" x2="400.20" y2="200.17" stroke="#3c3c3c" stroke-width="0.9" />
<text x="395.60" y="202.47" font-size="7" text-anchor="end" fill="#000" >0.2</text>
<line x1="398.60" y1="192.31" x2="400.20" y2="192.31" stroke="#3c3c3c" stroke-width="0.9" />
<line x1="397.20" y1="184.45" x2="400.20" y2="184.45" stroke="#3c3c3c" stroke-width="0.9" />
<text x="395.60" y="186.75" font-size="7" text-anchor="end" fill="#000" >0.3</text>
<line x1="398.60" y1="176.59" x2="400.20" y2="176.59" stroke="#3c3c3c" stroke-width="0.9" />
<line x1="397.20" y1="168.73" x2="400.20" y2="168.73" stroke="#3c3c3c" stroke-width="0.9" />
<text x="395.60" y="171.03" font-size="7" text-anchor="end" fill="#000" >0.4</text>
<line x1="398.60" y1="160.88" x2="400.20" y2="160.88" stroke="#3c3c3c" stroke-width="0.9" />
<line x1="397.20" y1="153.02" x2="400.20" y2="153.02" stroke="#3c3c3c" stroke-width="0.9" />
<text x="395.60" y="155.32" font-size="7" text-anchor="end" fill="#000" >0.5</text>
<line x1="398.60" y1="145.16" x2="400.20" y2="145.16" stroke="#3c3c3c" stroke-width="0.9" />
<line x1="397.20" y1="137.30" x2="400.20" y2="137.30" stroke="#3c3c3c" stroke-width="0.9" />
<text x="395.60" y="139.60" font-size="7" text-anchor="end" fill="#000" >0.6</text>
<line x1="424.42" y1="231.60" x2="424.42" y2="234.60" stroke="#3c3c3c" stroke-width="0.9" />
<text class="" x="424.42" y="244.20" font-size="9.5" text-anchor="middle" fill="#000"><tspan >F</tspan><tspan font-size="6.4" dy="3.1" style="stroke-width:0.1px">4.0−60</tspan></text>
<line x1="472.85" y1="231.60" x2="472.85" y2="234.60" stroke="#3c3c3c" stroke-width="0.9" />
<text class="" x="472.85" y="244.20" font-size="9.5" text-anchor="middle" fill="#000"><tspan >F</tspan><tspan font-size="6.4" dy="3.1" style="stroke-width:0.1px">4.0−100</tspan></text>
<line x1="521.28" y1="231.60" x2="521.28" y2="234.60" stroke="#3c3c3c" stroke-width="0.9" />
<text class="" x="521.28" y="244.20" font-size="9.5" text-anchor="middle" fill="#000"><tspan >F</tspan><tspan font-size="6.4" dy="3.1" style="stroke-width:0.1px">4.0−120</tspan></text>
<rect x="400.20" y="137.3" width="145.3" height="94.30" fill="none" stroke="#3c3c3c" stroke-width="1.1"/>
<text x="381.10" y="187.80" font-size="9.75" text-anchor="middle" fill="#000" class="big" transform="rotate(-90 381.10 187.8)">Friction coefficient</text>
<line x1="404.70" y1="142.30" x2="424.40" y2="142.30" stroke="#e4481c" stroke-width="0.9" />
<circle cx="414.50" cy="142.3" r="1.75" fill="#e4481c"/>
<text class="" x="426.80" y="145.80" font-size="8.5" text-anchor="start" fill="#000"><tspan font-style="italic">μ</tspan><tspan font-size="5.9" dy="2.0" style="stroke-width:0.1px">s</tspan></text>
<line x1="439.70" y1="142.30" x2="458.60" y2="142.30" stroke="#a47b58" stroke-width="0.9" />
<path d="M448.80,140.10 L451.00,142.30 L448.80,144.50 L446.60,142.30Z" fill="#a47b58"/>
<text class="" x="461.50" y="145.80" font-size="8.5" text-anchor="start" fill="#000"><tspan font-style="italic">μ</tspan><tspan font-size="5.9" dy="2.0" style="stroke-width:0.1px">d</tspan></text>
<path d="M424.42,202.52 C432.49,201.87 456.71,202.63 472.85,198.59 C488.99,194.56 513.21,181.70 521.28,178.32" fill="none" stroke="#a47b58" stroke-width="0.9"/>
<line x1="424.42" y1="195.52" x2="424.42" y2="209.52" stroke="#a47b58" stroke-width="0.8" />
<line x1="423.02" y1="195.52" x2="425.82" y2="195.52" stroke="#a47b58" stroke-width="0.8" />
<line x1="423.02" y1="209.52" x2="425.82" y2="209.52" stroke="#a47b58" stroke-width="0.8" />
<path d="M424.42,200.52 L426.42,202.52 L424.42,204.52 L422.42,202.52Z" fill="#a47b58"/>
<text x="424.72" y="217.60" font-size="8.5" text-anchor="middle" fill="#000" >0.18</text>
<line x1="472.85" y1="194.29" x2="472.85" y2="202.90" stroke="#a47b58" stroke-width="0.8" />
<line x1="471.45" y1="194.29" x2="474.25" y2="194.29" stroke="#a47b58" stroke-width="0.8" />
<line x1="471.45" y1="202.90" x2="474.25" y2="202.90" stroke="#a47b58" stroke-width="0.8" />
<path d="M472.85,196.59 L474.85,198.59 L472.85,200.59 L470.85,198.59Z" fill="#a47b58"/>
<text x="473.15" y="213.80" font-size="8.5" text-anchor="middle" fill="#000" >0.21</text>
<line x1="521.28" y1="177.52" x2="521.28" y2="179.12" stroke="#a47b58" stroke-width="0.8" />
<line x1="519.88" y1="177.52" x2="522.68" y2="177.52" stroke="#a47b58" stroke-width="0.8" />
<line x1="519.88" y1="179.12" x2="522.68" y2="179.12" stroke="#a47b58" stroke-width="0.8" />
<path d="M521.28,176.32 L523.28,178.32 L521.28,180.32 L519.28,178.32Z" fill="#a47b58"/>
<text x="521.58" y="191.40" font-size="8.5" text-anchor="middle" fill="#000" >0.34</text>
<path d="M424.42,179.42 C432.49,179.21 456.71,180.47 472.85,178.16 C488.99,175.86 513.21,167.69 521.28,165.59" fill="none" stroke="#e4481c" stroke-width="0.9"/>
<line x1="424.42" y1="175.62" x2="424.42" y2="183.22" stroke="#e4481c" stroke-width="0.8" />
<line x1="423.02" y1="175.62" x2="425.82" y2="175.62" stroke="#e4481c" stroke-width="0.8" />
<line x1="423.02" y1="183.22" x2="425.82" y2="183.22" stroke="#e4481c" stroke-width="0.8" />
<circle cx="424.42" cy="179.42" r="1.55" fill="#e4481c"/>
<text x="424.72" y="174.00" font-size="8.5" text-anchor="middle" fill="#000" >0.33</text>
<line x1="472.85" y1="175.66" x2="472.85" y2="180.66" stroke="#e4481c" stroke-width="0.8" />
<line x1="471.45" y1="175.66" x2="474.25" y2="175.66" stroke="#e4481c" stroke-width="0.8" />
<line x1="471.45" y1="180.66" x2="474.25" y2="180.66" stroke="#e4481c" stroke-width="0.8" />
<circle cx="472.85" cy="178.16" r="1.55" fill="#e4481c"/>
<text x="473.15" y="174.00" font-size="8.5" text-anchor="middle" fill="#000" >0.34</text>
<line x1="521.28" y1="164.79" x2="521.28" y2="166.39" stroke="#e4481c" stroke-width="0.8" />
<line x1="519.88" y1="164.79" x2="522.68" y2="164.79" stroke="#e4481c" stroke-width="0.8" />
<line x1="519.88" y1="166.39" x2="522.68" y2="166.39" stroke="#e4481c" stroke-width="0.8" />
<circle cx="521.28" cy="165.59" r="1.55" fill="#e4481c"/>
<text x="521.58" y="160.80" font-size="8.5" text-anchor="middle" fill="#000" >0.42</text>
</g></svg>
</body></html>
